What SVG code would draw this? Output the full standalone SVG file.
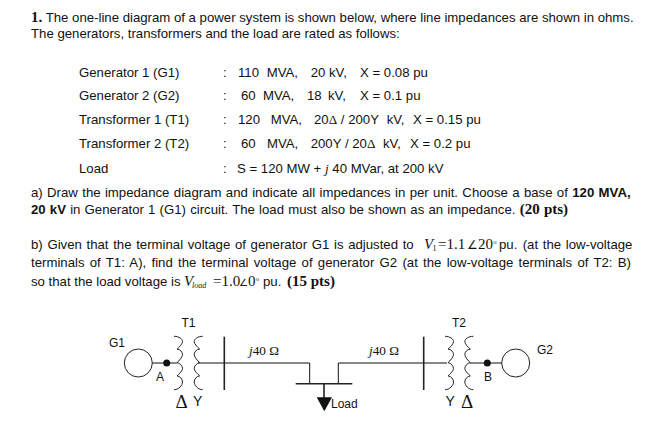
<svg xmlns="http://www.w3.org/2000/svg" width="656" height="423" viewBox="0 0 656 423">
<style>
text{font-family:"Liberation Sans",Arial,sans-serif;font-size:13.2px;fill:#111}
.s{font-family:"Liberation Serif","Times New Roman",serif}
.m{font-size:15px}
.b{font-weight:bold}
.i{font-style:italic}
.l{font-size:12px}
.w{fill:none;stroke:#111;stroke-width:1}
.c{fill:none;stroke:#222;stroke-width:1}
.bus{fill:none;stroke:#222;stroke-width:1.6}
.n{fill:#fff;stroke:#222;stroke-width:1}
</style>
<defs>
<path id="coilR" class="c" d="M0-26.7C5-26.7 8.500-24 8.500-21.500S5-15.500 3-13.900C6-13.900 8.500-11 8.500-8.500S5-2 3-.4C6 0 8.500 3 8.500 5.500S5 11 3 12.900C6 13.200 8.500 16 8.500 19S5 26.700 0 26.700"/>
<path id="coilL" class="c" d="M0-26.7C-5-26.7-8.500-24-8.500-21.500S-5-15.500-3-13.900C-6-13.900-8.500-11-8.500-8.500S-5-2-3-.4C-6 0-8.500 3-8.500 5.500S-5 11-3 12.900C-6 13.200-8.500 16-8.500 19S-5 26.700 0 26.700"/>
</defs>
<g id="problem-text">
<text x="31" y="22"><tspan class="s b" font-size="15">1.</tspan> The one-line diagram of a power system is shown below, where line impedances are shown in ohms.</text>
<text x="31" y="38">The generators, transformers and the load are rated as follows:</text>
<text x="79" y="77">Generator 1 (G1)</text>
<text x="79" y="100">Generator 2 (G2)</text>
<text x="79" y="124">Transformer 1 (T1)</text>
<text x="79" y="148">Transformer 2 (T2)</text>
<text x="79" y="173">Load</text>
<text y="77"><tspan x="223">:</tspan><tspan x="238">110</tspan><tspan x="266.700">MVA,</tspan><tspan x="310.700">20 kV,</tspan><tspan x="360">X = 0.08 pu</tspan></text>
<text y="100"><tspan x="223">:</tspan><tspan x="241">60</tspan><tspan x="263">MVA,</tspan><tspan x="307">18</tspan><tspan x="328">kV,</tspan><tspan x="360">X = 0.1 pu</tspan></text>
<text y="124"><tspan x="223">:</tspan><tspan x="238">120</tspan><tspan x="270.700">MVA,</tspan><tspan x="314">20<tspan class="s">Δ</tspan> / 200Y</tspan><tspan x="386.700">kV,</tspan><tspan x="413">X = 0.15 pu</tspan></text>
<text y="148"><tspan x="223">:</tspan><tspan x="241">60</tspan><tspan x="267">MVA,</tspan><tspan x="310.700">200Y / 20<tspan class="s">Δ</tspan></tspan><tspan x="383">kV,</tspan><tspan x="410">X = 0.2 pu</tspan></text>
<text y="173"><tspan x="223">:</tspan><tspan x="237">S = 120 MW + <tspan class="s i">j</tspan> 40 MVar, at 200 kV</tspan></text>
<text x="31" y="197" word-spacing="0.7">a) Draw the impedance diagram and indicate all impedances in per unit. Choose a base of <tspan class="b">120 MVA,</tspan></text>
<text x="31" y="214" word-spacing="0.5"><tspan class="b">20 kV</tspan> in Generator 1 (G1) circuit. The load must also be shown as an impedance. <tspan class="s b" font-size="15">(20 pts)</tspan></text>
<text y="249"><tspan x="31" word-spacing="1">b) Given that the terminal voltage of generator G1 is adjusted to</tspan><tspan class="s i m" x="424">V</tspan><tspan class="s" font-size="8" x="432.500" dy="2">1</tspan><tspan class="s m" x="438" dy="-2">=1.1</tspan><tspan font-size="12" x="466.500" class="s">∠</tspan><tspan class="s m" x="478">20</tspan><tspan class="s" font-size="6" x="493.500" dy="-5">o</tspan><tspan x="499" dy="5" word-spacing="1">pu.</tspan><tspan x="522.700" word-spacing="1">(at the low-voltage</tspan></text>
<text x="31" y="267" word-spacing="1.6">terminals of T1: A), find the terminal voltage of generator G2 (at the low-voltage terminals of T2: B)</text>
<text y="286"><tspan x="31">so that the load voltage is</tspan><tspan class="s i m" x="184">V</tspan><tspan class="s i" font-size="8" x="192" dy="2">load</tspan><tspan class="s m" x="213" dy="-2">=1.0</tspan><tspan class="s" font-size="10" x="239">∠</tspan><tspan class="s m" x="248">0</tspan><tspan class="s" font-size="6" x="256" dy="-5">o</tspan><tspan x="263" dy="5">pu.</tspan><tspan class="s b" font-size="15" x="287">(15 pts)</tspan></text>
</g>
<g id="connectors">
<path class="w" d="M152 363H177M198 363H224M224 363H309.700V383.700M338.300 383.700V363H447M470 363H502"/>
<path class="bus" d="M324 384V398"/>
</g>
<g id="G1"><circle class="n" cx="138.300" cy="363" r="14"/><text class="l" x="109" y="347">G1</text></g>
<g id="A"><circle cx="166.700" cy="363" r="3.500" fill="#111"/><text class="l" x="156" y="381">A</text></g>
<g id="T1"><use href="#coilR" x="174" y="363"/><use href="#coilL" x="202.700" y="363"/><text class="l" x="181.500" y="327">T1</text><text class="s" x="175.500" y="407.500" style="font-size:19px">Δ</text><text x="193" y="406" style="font-size:14px">Y</text></g>
<g id="bus1"><path class="bus" d="M224.300 336.700V390"/></g>
<g id="line1"><text class="s" x="249" y="355"><tspan class="i">j</tspan>40 Ω</text></g>
<g id="load-bus"><path class="bus" d="M295.700 383.700H352.300"/></g>
<g id="Load"><path d="M316.700 397.300H332L324.300 411.300Z" fill="#111"/><text class="l" x="331" y="408">Load</text></g>
<g id="line2"><text class="s" x="369" y="355"><tspan class="i">j</tspan>40 Ω</text></g>
<g id="bus2"><path class="bus" d="M423.700 336.700V390"/></g>
<g id="T2"><use href="#coilR" x="445" y="363"/><use href="#coilL" x="473.300" y="363"/><text class="l" x="452" y="327">T2</text><text x="445.500" y="406" style="font-size:14px">Y</text><text class="s" x="461" y="407.500" style="font-size:19px">Δ</text></g>
<g id="B"><circle cx="487.300" cy="363" r="3.500" fill="#111"/><text class="l" x="484" y="381">B</text></g>
<g id="G2"><circle class="n" cx="515.700" cy="363" r="14"/><text class="l" x="537" y="354">G2</text></g>
</svg>
